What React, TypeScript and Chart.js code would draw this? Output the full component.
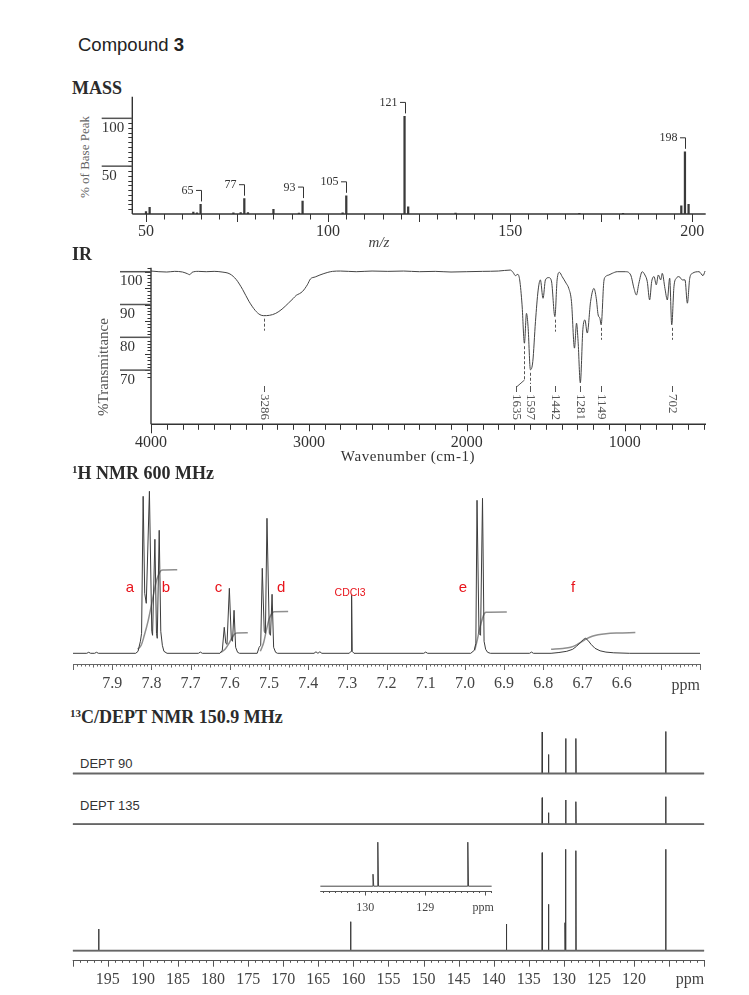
import React, { useEffect, useRef } from "react";
import { Chart, registerables } from "chart.js";

Chart.register(...registerables);

const SERIF = '"Liberation Serif", "Times New Roman", Times, serif';
const SANS = '"Liberation Sans", Arial, Helvetica, sans-serif';
const INK = "#333";
const RED = "#e8141b";

// ---------------- MASS ----------------
const MASS_MZ = [50, 51, 63, 64, 65, 74, 76, 77, 78, 85, 92, 93, 104, 105, 121, 122, 135, 169, 181, 197, 198, 199];
const MASS_INT = [2.5, 7, 2, 1.2, 10, 1.2, 1.5, 16, 1.5, 5, 1, 13.5, 1.2, 19, 102, 7.5, 1, 0.8, 0.8, 8.5, 65, 10];
const MASS_LABELED = [65, 77, 93, 105, 121, 198];
const MASS_X_TICKS = [50, 100, 150, 200];
const MASS_Y_TICKS = [50, 100];

// ---------------- IR ----------------
const IR_SPECTRUM: [number, number][] = [
  [4000, 100.2], [3950, 100.0], [3900, 99.9], [3850, 100.1], [3800, 99.9], [3770, 99.4], [3755, 99.1], [3740, 99.8],
  [3700, 100.1], [3650, 100.0], [3600, 100.1], [3550, 99.9], [3500, 99.3], [3460, 97.6], [3420, 94.6], [3380, 91.0],
  [3340, 88.2], [3310, 86.9], [3286, 86.6], [3250, 86.7], [3210, 87.3], [3170, 88.6], [3130, 90.4], [3100, 91.8],
  [3080, 92.8], [3060, 93.3], [3040, 94.0], [3010, 96.0], [2990, 97.8], [2960, 98.4], [2930, 99.0], [2880, 99.8],
  [2850, 100.1], [2800, 100.2], [2700, 100.0], [2600, 100.2], [2500, 100.1], [2400, 100.2], [2300, 100.0], [2200, 100.1],
  [2100, 99.9], [2000, 100.0], [1900, 100.1], [1800, 100.2], [1724, 100.5], [1707, 99.8], [1692, 98.8], [1677, 99.2],
  [1665, 97.5], [1650, 89.9], [1635, 78.2], [1622, 87.3], [1612, 83.3], [1597, 70.1], [1582, 72.6], [1565, 84.8],
  [1548, 94.4], [1534, 97.5], [1517, 91.9], [1502, 97.5], [1481, 98.2], [1464, 97.2], [1442, 86.3], [1428, 97.5],
  [1413, 99.8], [1396, 98.5], [1371, 96.5], [1354, 94.9], [1337, 90.9], [1318, 76.7], [1305, 84.3], [1295, 78.7],
  [1281, 66.1], [1265, 82.3], [1252, 85.3], [1237, 81.3], [1216, 90.9], [1195, 94.9], [1180, 91.9], [1168, 86.8],
  [1157, 85.8], [1149, 83.8], [1132, 97.0], [1121, 98.5], [1100, 99.0], [1079, 99.5], [1047, 100.0], [994, 100.0],
  [962, 99.0], [941, 94.9], [926, 92.9], [910, 96.5], [889, 100.0], [872, 99.0], [857, 97.0], [842, 91.4],
  [829, 97.0], [814, 98.5], [800, 96.0], [787, 99.0], [772, 97.5], [762, 99.5], [745, 94.9], [730, 91.4],
  [715, 98.0], [702, 83.8], [688, 95.4], [673, 98.0], [656, 98.5], [635, 97.5], [618, 97.5], [603, 90.4],
  [588, 98.0], [571, 99.5], [529, 100.0], [504, 98.8], [491, 100.2],
];
const IR_LABELED = [3286, 1635, 1597, 1442, 1281, 1149, 702];
const IR_X_TICKS = [4000, 3000, 2000, 1000];
const IR_Y_TICKS = [70, 80, 90, 100];

// ---------------- 1H NMR ----------------
const H_SPECTRUM: [number, number][] = [
  [8.0, 0], [7.965, 0], [7.96, 1], [7.955, 0], [7.945, 0], [7.94, 1], [7.935, 0],
  [7.84, 0], [7.834, 2], [7.828, 12], [7.825, 20], [7.821, 157], [7.817, 60], [7.813, 50], [7.805, 162],
  [7.799, 22], [7.797, 18], [7.791, 114], [7.787, 20], [7.785, 15], [7.78, 123], [7.776, 22], [7.772, 8],
  [7.768, 2], [7.76, 0], [7.68, 0], [7.675, 1.2], [7.67, 0],
  [7.625, 0], [7.619, 3], [7.614, 26], [7.61, 10], [7.607, 9], [7.601, 65], [7.596, 14], [7.593, 12],
  [7.589, 43], [7.585, 6], [7.58, 1], [7.575, 0],
  [7.53, 0], [7.525, 6], [7.521, 8], [7.517, 85], [7.512, 22], [7.509, 20], [7.505, 135], [7.499, 20],
  [7.496, 18], [7.492, 59], [7.488, 6], [7.483, 1], [7.478, 0],
  [7.385, 0], [7.38, 1.5], [7.375, 0], [7.37, 1.5], [7.365, 0],
  [7.295, 0], [7.2905, 2], [7.289, 58], [7.2875, 2], [7.283, 0],
  [7.105, 0], [7.1, 1.2], [7.095, 0],
  [6.985, 0], [6.976, 3], [6.972, 10], [6.969, 153], [6.964, 20], [6.96, 18], [6.955, 155], [6.951, 12],
  [6.947, 4], [6.942, 1], [6.935, 0], [6.835, 0], [6.83, 1.2], [6.825, 0],
  [6.78, 0], [6.76, 0.8], [6.74, 2], [6.725, 4], [6.715, 7], [6.705, 11], [6.697, 14], [6.692, 15],
  [6.686, 13], [6.678, 9], [6.668, 5], [6.655, 2.5], [6.64, 1.2], [6.62, 0.5], [6.58, 0], [6.4, 0],
];
const H_INT_AB: [number, number][] = [[7.835, 4], [7.826, 8], [7.818, 18], [7.808, 33], [7.8, 48], [7.793, 62], [7.786, 74], [7.78, 80], [7.776, 82.5], [7.77, 83.2], [7.734, 83.5]];
const H_INT_C: [number, number][] = [[7.622, 1], [7.612, 4], [7.602, 10], [7.595, 15], [7.588, 19], [7.582, 20.3], [7.554, 20.5]];
const H_INT_D: [number, number][] = [[7.522, 2], [7.514, 10], [7.506, 24], [7.499, 35], [7.492, 40], [7.487, 41.6], [7.451, 41.8]];
const H_INT_E: [number, number][] = [[6.975, 3], [6.968, 14], [6.962, 25], [6.955, 35], [6.95, 40], [6.945, 41], [6.893, 41.3]];
const H_INT_F: [number, number][] = [[6.78, 4], [6.75, 4.8], [6.73, 6], [6.715, 8.5], [6.7, 12], [6.69, 14.5], [6.675, 17], [6.66, 18.5], [6.64, 19.6], [6.61, 20.3], [6.565, 20.8]];
const H_LABELS: [string, number, number][] = [
  ["a", 7.855, 65.3], ["b", 7.763, 65.3], ["c", 7.629, 65.3], ["d", 7.469, 65.3],
  ["CDCl3", 7.293, 60], ["e", 7.005, 65.3], ["f", 6.724, 65.3],
];
const H_TICKS = [7.9, 7.8, 7.7, 7.6, 7.5, 7.4, 7.3, 7.2, 7.1, 7.0, 6.9, 6.8, 6.7, 6.6];

// ---------------- 13C / DEPT ----------------
const C_PPM = [196.3, 160.4, 138.2, 133.1, 132.2, 129.85, 129.75, 128.3, 115.5];
const C_HEIGHT = [21.7, 29, 26.7, 98, 46.4, 28, 101.4, 100, 101.4];
const DEPT_PPM = [133.1, 132.2, 129.75, 128.3, 115.5];
const DEPT90_HEIGHT = [41.5, 19, 35, 35, 42];
const DEPT135_HEIGHT = [26.5, 11.5, 24.2, 22.5, 27.5];
const INSET_PPM = [129.87, 129.79, 128.29];
const INSET_HEIGHT = [12, 44, 44];
const C_TICKS = [195, 190, 185, 180, 175, 170, 165, 160, 155, 150, 145, 140, 135, 130, 125, 120];
const INSET_TICKS = [130, 129];

// ---------------- helpers ----------------
type Box = { left: number; top: number; width: number; height: number };
type Area = { left: number; top: number; right: number; bottom: number };

const pts = (arr: [number, number][]) => arr.map(([x, y]) => ({ x, y }));

function sticks(ppm: number[], h: number[], half: number, hi: number, lo: number) {
  const order = ppm.map((_, i) => i).sort((a, b) => ppm[b] - ppm[a]);
  const out = [{ x: hi, y: 0 }];
  for (const i of order) {
    out.push({ x: ppm[i] + half, y: 0 }, { x: ppm[i], y: h[i] }, { x: ppm[i] - half, y: 0 });
  }
  out.push({ x: lo, y: 0 });
  return out;
}

function seg(ctx: CanvasRenderingContext2D, x1: number, y1: number, x2: number, y2: number) {
  ctx.beginPath();
  ctx.moveTo(x1, y1);
  ctx.lineTo(x2, y2);
  ctx.stroke();
}

function txt(ctx: CanvasRenderingContext2D, s: string, x: number, y: number, font: string, color: string, align: CanvasTextAlign = "center") {
  ctx.font = font;
  ctx.fillStyle = color;
  ctx.textAlign = align;
  ctx.textBaseline = "middle";
  ctx.fillText(s, x, y);
}

function xTicks(ctx: CanvasRenderingContext2D, sx: any, y: number, min: number, max: number, step: number, len: (k: number) => number) {
  const k0 = Math.ceil(min / step - 1e-9);
  const k1 = Math.floor(max / step + 1e-9);
  for (let k = k0; k <= k1; k++) {
    const px = Math.round(sx.getPixelForValue(k * step)) + 0.5;
    seg(ctx, px, y, px, y + len(k));
  }
}

function yTicks(ctx: CanvasRenderingContext2D, sy: any, x: number, min: number, max: number, step: number, len: (k: number) => number) {
  const k0 = Math.ceil(min / step - 1e-9);
  const k1 = Math.floor(max / step + 1e-9);
  for (let k = k0; k <= k1; k++) {
    const py = Math.round(sy.getPixelForValue(k * step)) + 0.5;
    seg(ctx, x - len(k), py, x, py);
  }
}

function baseOptions(padding: any, x: any, y: any) {
  return {
    responsive: false,
    maintainAspectRatio: false,
    animation: false,
    events: [],
    layout: { padding },
    plugins: { legend: { display: false }, tooltip: { enabled: false }, title: { display: false } },
    elements: { point: { radius: 0 }, line: { tension: 0, borderWidth: 1 } },
    scales: {
      x: { type: "linear", display: false, offset: false, ...x },
      y: { type: "linear", display: false, ...y },
    },
  };
}

function ChartBox({ box, area, make }: { box: Box; area: Area; make: (padding: any) => any }) {
  const ref = useRef<HTMLCanvasElement>(null);
  useEffect(() => {
    const padding = {
      left: area.left - box.left,
      top: area.top - box.top,
      right: box.left + box.width - area.right,
      bottom: box.top + box.height - area.bottom,
    };
    const chart = new Chart(ref.current as HTMLCanvasElement, make(padding));
    return () => chart.destroy();
  }, []);
  return (
    <canvas
      ref={ref}
      width={box.width}
      height={box.height}
      style={{ position: "absolute", left: box.left, top: box.top, width: box.width, height: box.height }}
    />
  );
}

// ---------------- chart configs ----------------
const massMake = (padding: any) => ({
  type: "bar",
  data: {
    datasets: [
      {
        data: MASS_MZ.map((m, i) => ({ x: m, y: MASS_INT[i] })),
        backgroundColor: "#3a3a3a",
        borderWidth: 0,
        barThickness: 1.6,
        grouped: false,
      },
    ],
  },
  options: baseOptions(padding, { min: 46.24, max: 203.7 }, { min: 0, max: 122.6 }),
  plugins: [
    {
      id: "massDecor",
      afterDraw(chart: any) {
        const ctx = chart.ctx as CanvasRenderingContext2D;
        const { left: L, right: R, top: T, bottom: B } = chart.chartArea;
        const sx = chart.scales.x, sy = chart.scales.y;
        ctx.save();
        ctx.strokeStyle = INK;
        ctx.lineWidth = 1.4;
        seg(ctx, L, T, L, B);
        seg(ctx, L, B, R, B);
        ctx.lineWidth = 1;
        xTicks(ctx, sx, B, 50, 200, 5, (k) => (k % 5 === 0 ? 8 : 5.5));
        yTicks(ctx, sy, L, 5, 100, 5, () => 4);
        ctx.lineWidth = 1.5;
        ctx.strokeStyle = "#555";
        for (const v of MASS_Y_TICKS) {
          const py = sy.getPixelForValue(v);
          seg(ctx, 101.7 - 60, py, L, py);
          txt(ctx, String(v), 101.7 - 60, py + 9.5, `15px ${SERIF}`, INK, "left");
        }
        for (const v of MASS_X_TICKS) {
          txt(ctx, String(v), sx.getPixelForValue(v), B + 17.7, `16px ${SERIF}`, INK);
        }
        txt(ctx, "m/z", 379 - 60, 243 - 92, `italic 15px ${SERIF}`, "#444");
        ctx.strokeStyle = INK;
        ctx.lineWidth = 1;
        for (const v of MASS_LABELED) {
          const h = MASS_INT[MASS_MZ.indexOf(v)];
          const px = Math.round(sx.getPixelForValue(v)) + 0.5;
          const py = sy.getPixelForValue(h);
          const ly = py - 14;
          seg(ctx, px - 5.5, ly, px, ly);
          seg(ctx, px, ly, px, py - 3);
          txt(ctx, String(v), px - 8, ly + 0.5, `12px ${SERIF}`, INK, "right");
        }
        ctx.restore();
      },
    },
  ],
});

const irMake = (padding: any) => ({
  type: "line",
  data: {
    datasets: [
      {
        data: pts(IR_SPECTRUM),
        borderColor: "#444",
        borderWidth: 1,
        cubicInterpolationMode: "monotone",
      },
    ],
  },
  options: baseOptions(padding, { min: 485, max: 4000, reverse: true }, { min: 53.48, max: 101.22 }),
  plugins: [
    {
      id: "irDecor",
      afterDraw(chart: any) {
        const ctx = chart.ctx as CanvasRenderingContext2D;
        const { left: L, right: R, top: T, bottom: B } = chart.chartArea;
        const sx = chart.scales.x, sy = chart.scales.y;
        const oy = 258, ox = 60;
        ctx.save();
        ctx.strokeStyle = INK;
        ctx.lineWidth = 1.4;
        seg(ctx, L, T, L, B);
        seg(ctx, L, B, R, B);
        ctx.lineWidth = 1;
        xTicks(ctx, sx, B, 500, 4000, 100, (k) => (k === 40 ? 9 : k % 10 === 0 ? 7 : 5.5));
        yTicks(ctx, sy, L, 68, 101, 1, (k) => (k % 5 === 0 ? 6 : 3.5));
        ctx.lineWidth = 1.5;
        ctx.strokeStyle = "#555";
        for (const v of IR_Y_TICKS) {
          const py = sy.getPixelForValue(v);
          seg(ctx, 120 - ox, py, L, py);
          txt(ctx, String(v), 120 - ox, py + 9.5, `15px ${SERIF}`, INK, "left");
        }
        for (const v of IR_X_TICKS) {
          txt(ctx, String(v), sx.getPixelForValue(v), B + 18.4, `16px ${SERIF}`, INK);
        }
        (ctx as any).letterSpacing = "0.6px";
        txt(ctx, "Wavenumber (cm-1)", 408 - ox, 457 - oy, `15px ${SERIF}`, INK);
        (ctx as any).letterSpacing = "0px";
        // peak annotations
        ctx.strokeStyle = "#555";
        ctx.lineWidth = 1;
        for (const v of IR_LABELED) {
          const p = IR_SPECTRUM.find((q) => q[0] === v) as [number, number];
          const px = Math.round(sx.getPixelForValue(v)) + 0.5;
          const py = sy.getPixelForValue(p[1]);
          const lx = v === 1635 ? px - 8 : px;
          const topL = 386 - oy;
          ctx.setLineDash([3, 2]);
          const yEnd = v === 1635 ? topL - 6 : Math.min(py + 15, topL - 2);
          if (yEnd > py + 3) seg(ctx, px, py + 3, px, yEnd);
          ctx.setLineDash([]);
          if (v === 1635) seg(ctx, px, topL - 6, lx, topL + 1);
          seg(ctx, lx, topL, lx, topL + 6);
          ctx.save();
          ctx.translate(lx, topL + 8);
          ctx.rotate(Math.PI / 2);
          txt(ctx, String(v), 0, 0.5, `13px ${SERIF}`, "#555", "left");
          ctx.restore();
        }
        ctx.restore();
      },
    },
  ],
});

const hMake = (padding: any) => {
  const integral = (arr: [number, number][]) => ({
    data: pts(arr),
    borderColor: "#8f8f8f",
    borderWidth: 1.5,
    cubicInterpolationMode: "monotone",
  });
  return {
    type: "line",
    data: {
      datasets: [
        { data: pts(H_SPECTRUM), borderColor: "#3c3c3c", borderWidth: 1 },
        integral(H_INT_AB),
        integral(H_INT_C),
        integral(H_INT_D),
        integral(H_INT_E),
        integral(H_INT_F),
      ],
    },
    options: baseOptions(padding, { min: 6.4, max: 8.0, reverse: true }, { min: -11, max: 168.3 }),
    plugins: [
      {
        id: "hDecor",
        afterDraw(chart: any) {
          const ctx = chart.ctx as CanvasRenderingContext2D;
          const { left: L, right: R, bottom: B } = chart.chartArea;
          const sx = chart.scales.x, sy = chart.scales.y;
          ctx.save();
          ctx.strokeStyle = "#666";
          ctx.lineWidth = 1;
          seg(ctx, L, Math.round(B) + 0.5, R, Math.round(B) + 0.5);
          xTicks(ctx, sx, Math.round(B), 6.4, 8.0, 0.01, (k) => (k % 10 === 0 ? 6 : k % 5 === 0 ? 3.5 : 2.5));
          for (const v of H_TICKS) {
            txt(ctx, v.toFixed(1), sx.getPixelForValue(v), B + 19, `16px ${SERIF}`, "#444");
          }
          txt(ctx, "ppm", R, B + 21.5, `16px ${SERIF}`, "#444", "right");
          for (const [s, ppm, h] of H_LABELS) {
            const small = s === "CDCl3";
            txt(ctx, s, sx.getPixelForValue(ppm), sy.getPixelForValue(h), small ? `10.5px ${SANS}` : `15px ${SANS}`, RED);
          }
          ctx.restore();
        },
      },
    ],
  };
};

const cAxis = (chart: any) => {
  const ctx = chart.ctx as CanvasRenderingContext2D;
  const { left: L, right: R, bottom: B } = chart.chartArea;
  const sx = chart.scales.x;
  ctx.save();
  ctx.strokeStyle = "#555";
  ctx.lineWidth = 1;
  const yb = Math.round(B) + 0.5;
  seg(ctx, L, yb, R, yb);
  xTicks(ctx, sx, Math.round(B), 110, 200, 1, (k) => (k % 5 === 0 ? 6.7 : 2.8));
  for (const v of C_TICKS) {
    txt(ctx, String(v), sx.getPixelForValue(v), B + 19.3, `16px ${SERIF}`, "#444");
  }
  txt(ctx, "ppm", R, B + 19.5, `16px ${SERIF}`, "#444", "right");
  ctx.restore();
};

const cMake = (heights: number[], ppm: number[], yr: { min: number; max: number }, withAxis: boolean) => (padding: any) => ({
  type: "line",
  data: {
    datasets: [
      { data: pts([[200, 0], [110, 0]]), borderColor: "#666", borderWidth: 1.8 },
      { data: sticks(ppm, heights, 0.04, 200, 110), borderColor: "#3a3a3a", borderWidth: 1 },
    ],
  },
  options: baseOptions(padding, { min: 110, max: 200, reverse: true }, yr),
  plugins: withAxis ? [{ id: "cDecor", afterDraw: cAxis }] : [],
});

const insetMake = (padding: any) => ({
  type: "line",
  data: {
    datasets: [
      { data: sticks(INSET_PPM, INSET_HEIGHT, 0.012, 130.75, 127.89), borderColor: "#444", borderWidth: 1 },
    ],
  },
  options: baseOptions(padding, { min: 127.89, max: 130.75, reverse: true }, { min: -5, max: 46.2 }),
  plugins: [
    {
      id: "insetDecor",
      afterDraw(chart: any) {
        const ctx = chart.ctx as CanvasRenderingContext2D;
        const { left: L, right: R, bottom: B } = chart.chartArea;
        const sx = chart.scales.x;
        ctx.save();
        ctx.strokeStyle = "#555";
        ctx.lineWidth = 1;
        const yb = Math.round(B) + 0.5;
        seg(ctx, L, yb, R, yb);
        xTicks(ctx, sx, Math.round(B), 127.9, 130.75, 0.1, (k) => (k % 10 === 0 ? 4.5 : 2));
        for (const v of INSET_TICKS) {
          txt(ctx, String(v), sx.getPixelForValue(v), B + 17, `12px ${SERIF}`, "#444");
        }
        txt(ctx, "ppm", R + 2, B + 17, `12px ${SERIF}`, "#444", "right");
        ctx.restore();
      },
    },
  ],
});

// ---------------- layout ----------------
const Text = ({ x, y, style, children }: any) => (
  <div style={{ position: "absolute", left: x, top: y, transform: "translateY(-50%)", whiteSpace: "nowrap", lineHeight: 1, ...style }}>
    {children}
  </div>
);

const VText = ({ x, y, style, children }: any) => (
  <div
    style={{
      position: "absolute",
      left: x,
      top: y,
      transform: "translate(-50%, -50%) rotate(-90deg)",
      whiteSpace: "nowrap",
      lineHeight: 1,
      ...style,
    }}
  >
    {children}
  </div>
);

const heading = { fontFamily: SERIF, fontWeight: 700, fontSize: 18, color: "#2b2b2b" };
const sup = { fontSize: 11, position: "relative" as const, top: -6 };

export default function App() {
  return (
    <div style={{ position: "absolute", left: 0, top: 0, width: 749, height: 995, background: "#fff", overflow: "hidden" }}>
      <Text x={78} y={45} style={{ fontFamily: SANS, fontSize: 18.5, color: "#222" }}>
        Compound <b>3</b>
      </Text>

      <Text x={72} y={88} style={heading}>MASS</Text>
      <VText x={83.5} y={157} style={{ fontFamily: SERIF, fontSize: 13, color: "#666" }}>% of Base Peak</VText>
      <ChartBox box={{ left: 60, top: 92, width: 660, height: 160 }} area={{ left: 132.3, top: 96.7, right: 705.7, bottom: 214 }} make={massMake} />

      <Text x={72} y={254} style={heading}>IR</Text>
      <VText x={103} y={367} style={{ fontFamily: SERIF, fontSize: 15, color: "#555" }}>%Transmittance</VText>
      <ChartBox box={{ left: 60, top: 258, width: 660, height: 215 }} area={{ left: 151, top: 267.7, right: 706, bottom: 424.3 }} make={irMake} />

      <Text x={72} y={473} style={heading}>
        <span style={sup}>1</span>H NMR 600 MHz
      </Text>
      <ChartBox box={{ left: 60, top: 482, width: 660, height: 215 }} area={{ left: 73, top: 485, right: 700, bottom: 664.3 }} make={hMake} />

      <Text x={70} y={717} style={heading}>
        <span style={sup}>13</span>C/DEPT NMR 150.9 MHz
      </Text>
      <Text x={80} y={763} style={{ fontFamily: SANS, fontSize: 13, color: "#333" }}>DEPT 90</Text>
      <Text x={80} y={805} style={{ fontFamily: SANS, fontSize: 13, color: "#333" }}>DEPT 135</Text>
      <ChartBox box={{ left: 60, top: 726, width: 660, height: 56 }} area={{ left: 72.7, top: 728, right: 704.3, bottom: 780 }} make={cMake(DEPT90_HEIGHT, DEPT_PPM, { min: -6.5, max: 45.5 }, false)} />
      <ChartBox box={{ left: 60, top: 784, width: 660, height: 46 }} area={{ left: 72.7, top: 786, right: 704.3, bottom: 830 }} make={cMake(DEPT135_HEIGHT, DEPT_PPM, { min: -5.8, max: 38.2 }, false)} />
      <ChartBox box={{ left: 60, top: 834, width: 660, height: 160 }} area={{ left: 72.7, top: 840, right: 704.3, bottom: 960 }} make={cMake(C_HEIGHT, C_PPM, { min: -9.3, max: 110.7 }, true)} />
      <ChartBox box={{ left: 300, top: 836, width: 210, height: 82 }} area={{ left: 320.2, top: 840, right: 491.8, bottom: 891.2 }} make={insetMake} />
    </div>
  );
}
